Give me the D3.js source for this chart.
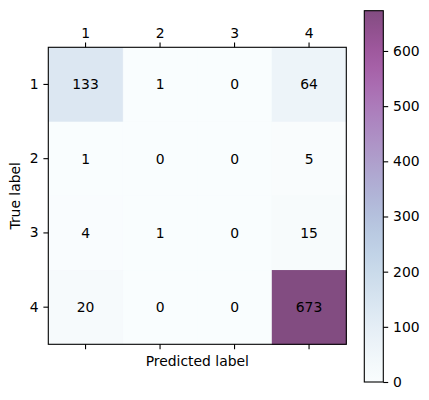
<!DOCTYPE html>
<html>
<head>
<meta charset="utf-8">
<script src="https://cdn.jsdelivr.net/npm/d3@7"></script>
<style>
  body { margin: 0; background: #fff; }
  svg { font-family: "DejaVu Sans", sans-serif; }
</style>
</head>
<body>
<div id="chart"></div>
<script>
// confusion matrix values
const classLabels = ["1", "2", "3", "4"];
const row1 = [133, 1, 0, 64];
const row2 = [1, 0, 0, 5];
const row3 = [4, 1, 0, 15];
const row4 = [20, 0, 0, 673];
const colorTicks = [0, 100, 200, 300, 400, 500, 600];

const matrix = [row1, row2, row3, row4];
const maxVal = d3.max(matrix.flat());

const W = 429, H = 400;
const plot = { left: 48.3, top: 47.3, right: 346.3, bottom: 344.3 };
const cbar = { left: 364.3, right: 383.3, top: 10.7, bottom: 382 };
const fontSize = 13.9;
const tickLen = 4.9;
const alpha = 0.7;

const svg = d3.select('#chart').append('svg')
    .attr('width', W)
    .attr('height', H);

const x = d3.scaleBand().domain(classLabels).range([plot.left, plot.right]);
const y = d3.scaleBand().domain(classLabels).range([plot.top, plot.bottom]);
const color = v => d3.interpolateBuPu(v / maxVal);

// cells
const cells = [];
matrix.forEach((row, i) => row.forEach((v, j) => cells.push({ r: classLabels[i], c: classLabels[j], v })));

svg.append('rect')
    .attr('x', plot.left).attr('y', plot.top)
    .attr('width', plot.right - plot.left).attr('height', plot.bottom - plot.top)
    .attr('fill', '#fff');

svg.selectAll('.cell')
    .data(cells)
    .enter()
    .append('rect')
    .attr('class', 'cell')
    .attr('x', d => x(d.c))
    .attr('y', d => y(d.r))
    .attr('width', x.bandwidth() + 0.5)
    .attr('height', y.bandwidth() + 0.5)
    .attr('fill', d => color(d.v))
    .attr('fill-opacity', alpha);

svg.selectAll('.cell-label')
    .data(cells)
    .enter()
    .append('text')
    .attr('class', 'cell-label')
    .attr('x', d => x(d.c) + x.bandwidth() / 2)
    .attr('y', d => y(d.r) + y.bandwidth() / 2)
    .attr('dy', '0.36em')
    .attr('text-anchor', 'middle')
    .attr('font-size', fontSize)
    .attr('fill', '#000')
    .text(d => d.v);

// axes
function styleAxis(g) {
    g.select('.domain').remove();
    g.selectAll('.tick line').attr('stroke', '#000').attr('stroke-width', 1.1);
    g.selectAll('.tick text').attr('font-size', fontSize).attr('fill', '#000')
        .attr('font-family', '"DejaVu Sans", sans-serif');
}

svg.append('g')
    .attr('transform', `translate(0,${plot.top})`)
    .call(d3.axisTop(x).tickSize(tickLen).tickPadding(4.9))
    .call(styleAxis);

svg.append('g')
    .attr('transform', `translate(0,${plot.bottom})`)
    .call(d3.axisBottom(x).tickSize(tickLen).tickFormat(''))
    .call(styleAxis);

svg.append('g')
    .attr('transform', `translate(${plot.left},0)`)
    .call(d3.axisLeft(y).tickSize(tickLen).tickPadding(4.9))
    .call(styleAxis);

svg.append('rect')
    .attr('x', plot.left).attr('y', plot.top)
    .attr('width', plot.right - plot.left).attr('height', plot.bottom - plot.top)
    .attr('fill', 'none').attr('stroke', '#000').attr('stroke-width', 1.1);

// axis titles
svg.append('text')
    .attr('x', (plot.left + plot.right) / 2)
    .attr('y', 366)
    .attr('text-anchor', 'middle')
    .attr('font-size', fontSize)
    .text('Predicted label');

svg.append('text')
    .attr('transform', `translate(20,${(plot.top + plot.bottom) / 2}) rotate(-90)`)
    .attr('text-anchor', 'middle')
    .attr('font-size', fontSize)
    .text('True label');

// colorbar
const cScale = d3.scaleLinear().domain([0, maxVal]).range([cbar.bottom, cbar.top]);
const grad = svg.append('defs').append('linearGradient')
    .attr('id', 'cbar-grad')
    .attr('x1', 0).attr('y1', 1).attr('x2', 0).attr('y2', 0);
d3.range(0, 1.0001, 0.05).forEach(t => {
    grad.append('stop')
        .attr('offset', t)
        .attr('stop-color', d3.interpolateBuPu(t))
        .attr('stop-opacity', alpha);
});

svg.append('rect')
    .attr('x', cbar.left).attr('y', cbar.top)
    .attr('width', cbar.right - cbar.left).attr('height', cbar.bottom - cbar.top)
    .attr('fill', 'url(#cbar-grad)')
    .attr('stroke', '#000').attr('stroke-width', 1.1);

svg.append('g')
    .attr('transform', `translate(${cbar.right},0)`)
    .call(d3.axisRight(cScale).tickValues(colorTicks).tickSize(tickLen).tickPadding(4.9))
    .call(styleAxis);
</script>
</body>
</html>
